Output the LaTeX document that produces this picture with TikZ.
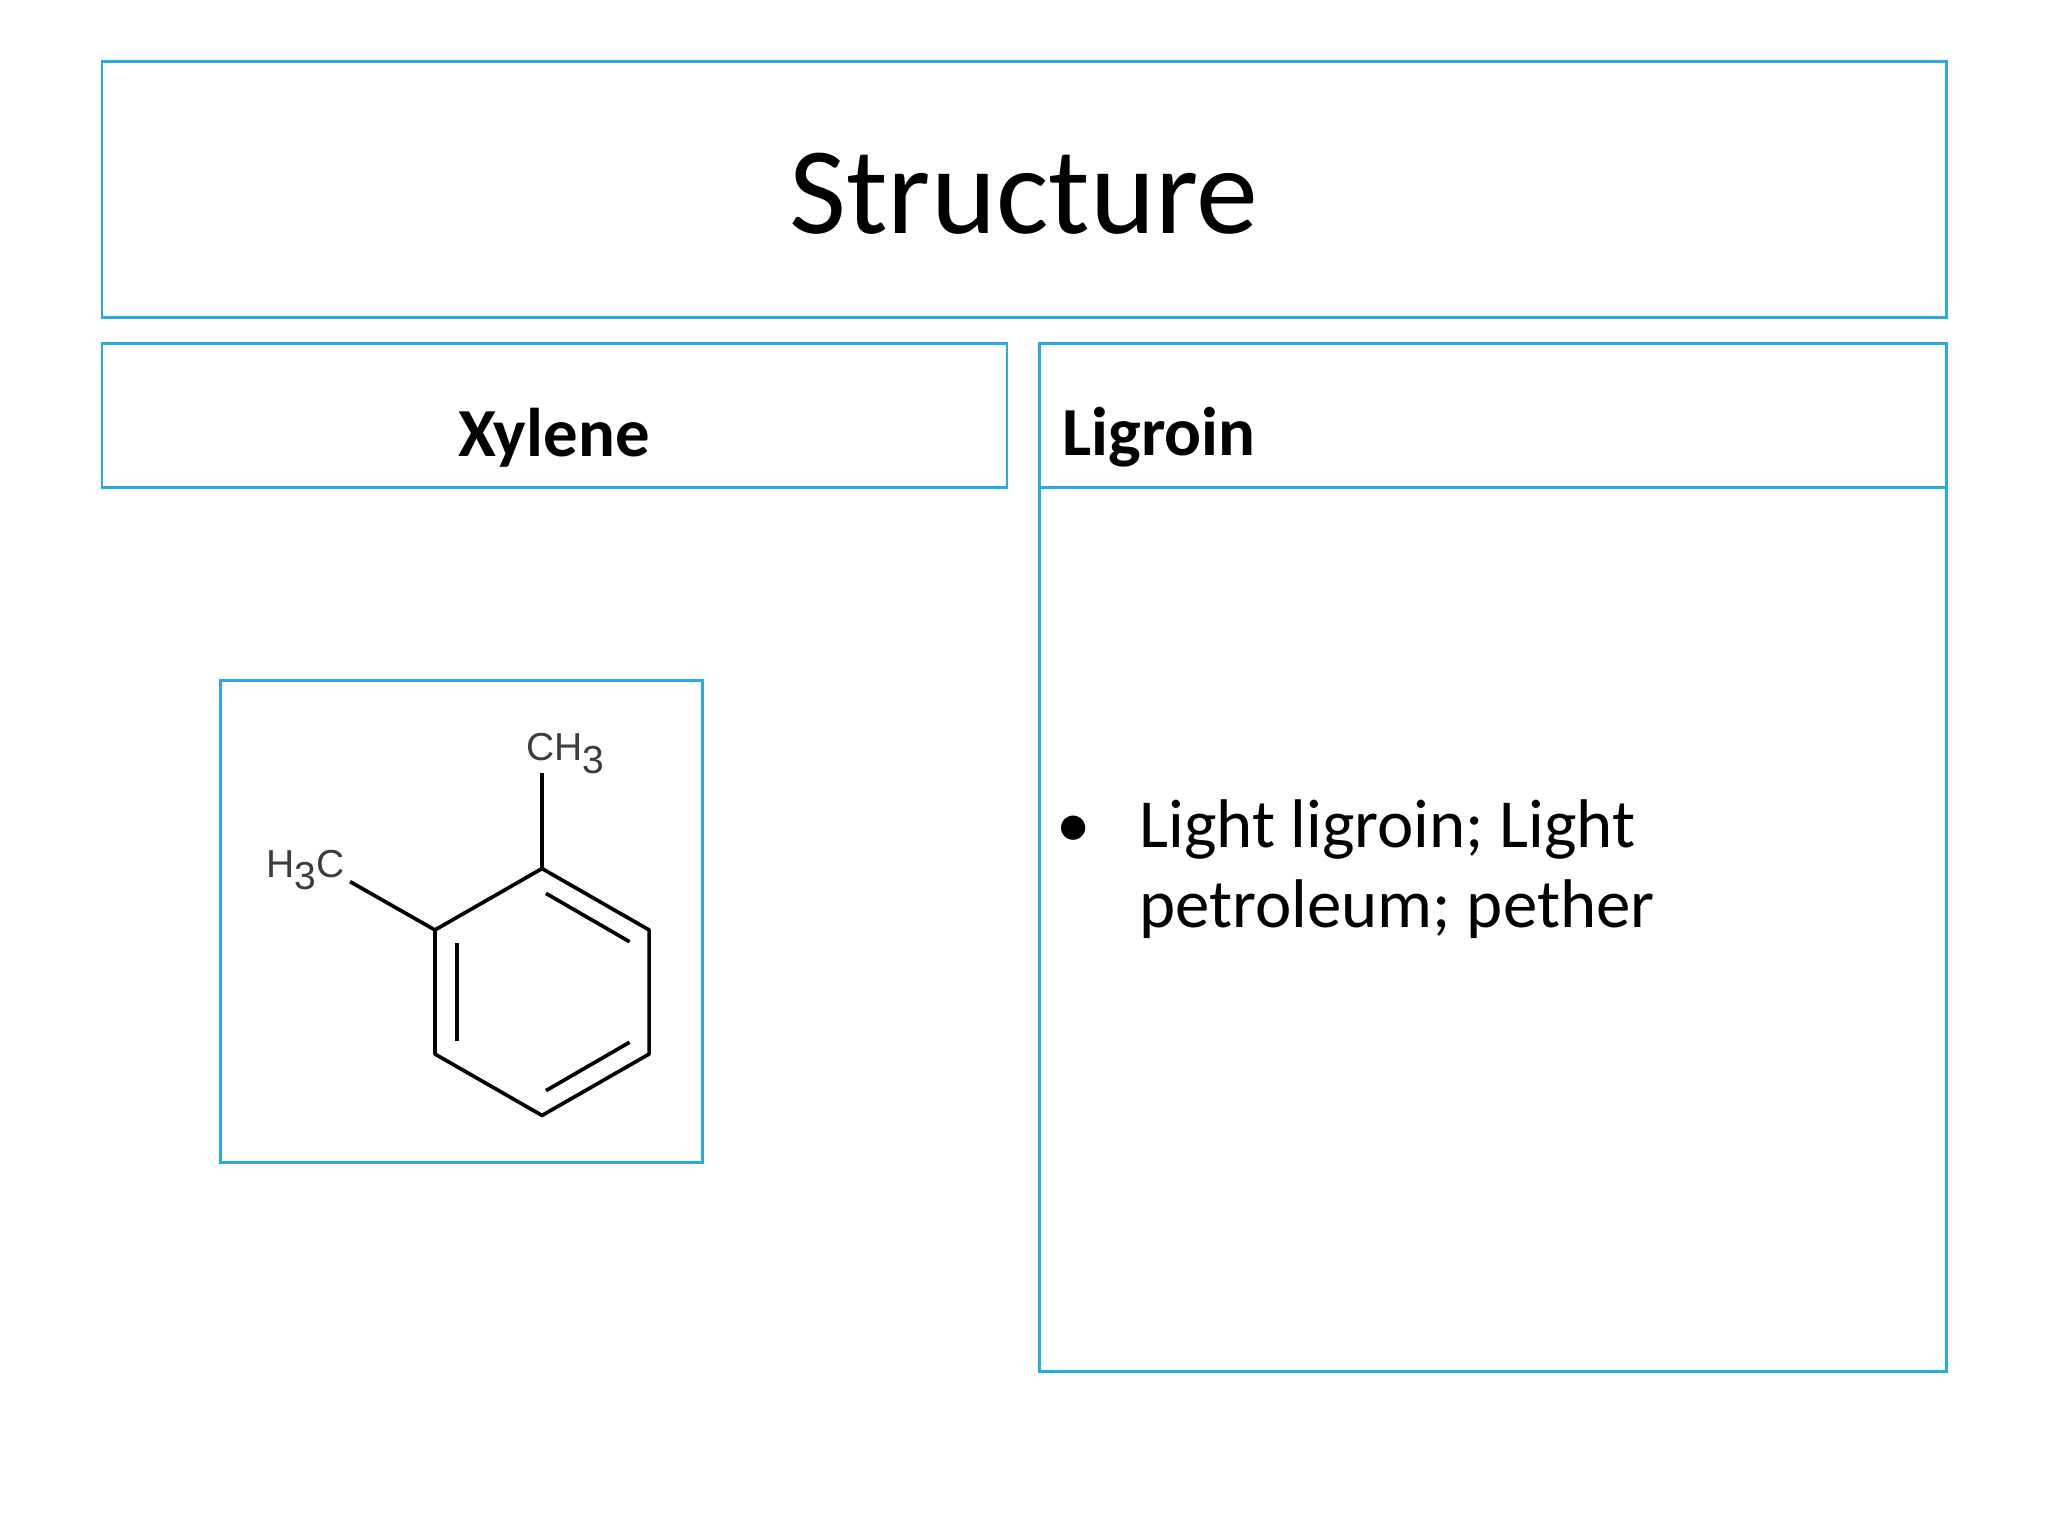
\documentclass[tikz,border=0pt]{standalone}
\usepackage{fontspec}
\setmainfont{Carlito}
\newfontfamily\molfont{Liberation Sans}
\definecolor{boxc}{RGB}{41,170,225}
\definecolor{molc}{RGB}{60,60,60}
\begin{document}
\begin{tikzpicture}[x=0.02cm,y=-0.02cm,
  box/.style={draw=boxc,line width=1.2pt},
  bond/.style={line width=1.6pt,black},
  mol/.style={font=\molfont\fontsize{17}{20}\selectfont,text=molc,inner sep=0pt}]
\useasboundingbox (0,0) rectangle (1568,1176);
\draw[box] (78,47) rectangle (1490,243);
\node (title) at (784,148) {\fontsize{54}{64}\selectfont Structure};
\draw[box] (78,263) rectangle (771,373);
\node (xyl) at (424,335) {\fontsize{30}{36}\selectfont\bfseries Xylene};
\draw[box] (796,263) rectangle (1490,373);
\node[anchor=west,inner sep=0pt] (lig) at (813,335) {\fontsize{30}{36}\selectfont\bfseries Ligroin};
\draw[box] (796,373) rectangle (1490,1050);
\node (bul) at (822,637) {\fontsize{30}{36}\selectfont\textbullet};
\node[anchor=north west,inner sep=0pt,align=left,font=\fontsize{30}{35}\selectfont] (txt) at (872,612)
  {Light ligroin; Light\\petroleum; pether};
\draw[box] (169,521) rectangle (538,890);
\coordinate (a) at (415,665); \coordinate (b) at (497,712);
\coordinate (c) at (497,807); \coordinate (d) at (415,854);
\coordinate (e) at (333,807); \coordinate (f) at (333,712);
\coordinate (m1) at (415,592); \coordinate (m2) at (268,675);
\draw[bond,line join=round] (a)--(b)--(c)--(d)--(e)--(f)--cycle;
\draw[bond] (a)--(m1); \draw[bond] (f)--(m2);
\draw[bond] (418,684)--(482,721);
\draw[bond] (350,722)--(350,797);
\draw[bond] (418,835)--(482,798);
\node[mol] (ch3) at (433,577) {CH\raisebox{-0.6ex}{3}};
\node[mol] (h3c) at (234,666) {H\raisebox{-0.6ex}{3}C};
\end{tikzpicture}
\end{document}
